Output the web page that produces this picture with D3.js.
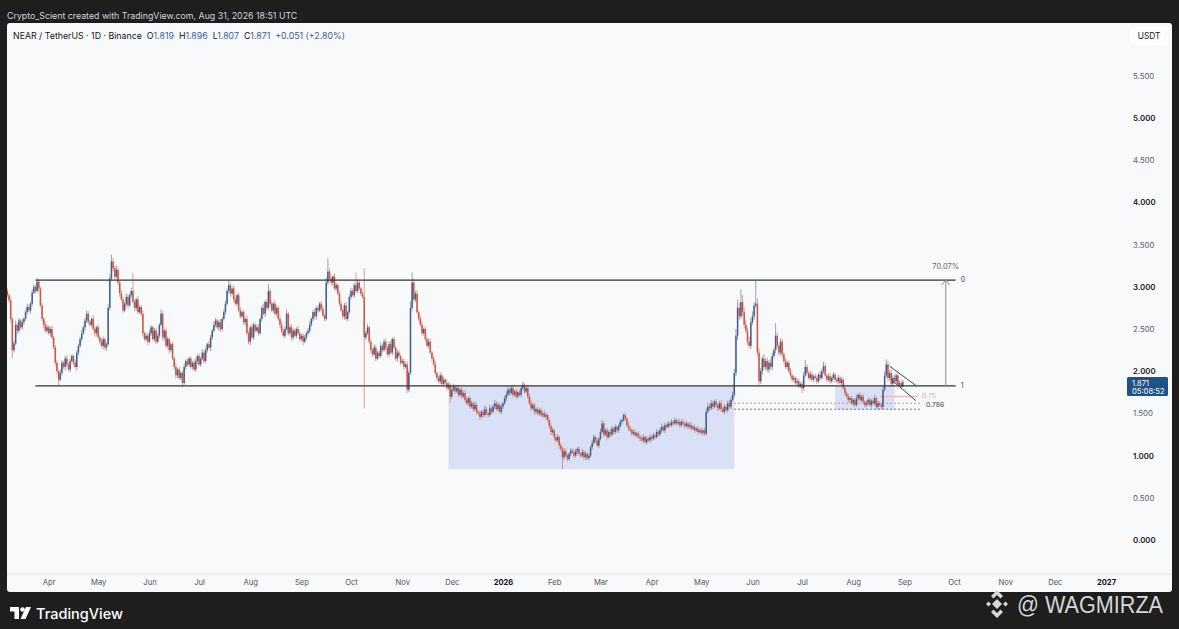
<!DOCTYPE html>
<html>
<head>
<meta charset="utf-8">
<script src="https://cdn.jsdelivr.net/npm/d3@7"></script>
<style>
  body { margin: 0; background: #1e1e1e; }
  svg { display: block; font-family: Inter, "Noto Sans", sans-serif; }
</style>
</head>
<body>
<div id="chart"></div>
<script>
// NEAR / TetherUS daily candles
const startDate = "2025-03-07";
const firstOpen = 2.95;

// Daily closes, one row = 10 days
const closes = [
  2.90, 2.84, 2.62, 2.25, 2.33, 2.55, 2.48, 2.60, 2.52, 2.58,
  2.62, 2.70, 2.76, 2.72, 2.80, 2.93, 3.00, 2.95, 3.06, 2.98,
  2.78, 2.62, 2.55, 2.48, 2.52, 2.45, 2.50, 2.40, 2.28, 2.10,
  2.00, 1.90, 1.98, 2.10, 2.05, 2.15, 2.08, 2.02, 2.12, 2.18,
  2.10, 2.05, 2.22, 2.30, 2.38, 2.45, 2.52, 2.60, 2.68, 2.58,
  2.55, 2.62, 2.50, 2.45, 2.52, 2.40, 2.35, 2.30, 2.38, 2.28,
  2.32, 2.75, 3.10, 3.30, 3.22, 3.12, 3.20, 3.05, 2.92, 2.85,
  2.72, 2.80, 2.88, 2.78, 2.90, 2.95, 2.82, 2.75, 2.85, 2.70,
  2.76, 2.68, 2.45, 2.38, 2.42, 2.35, 2.45, 2.52, 2.38, 2.48,
  2.35, 2.42, 2.55, 2.68, 2.40, 2.48, 2.30, 2.38, 2.25, 2.32,
  2.15, 2.05, 1.95, 2.02, 1.92, 1.98, 1.86, 2.05, 2.12, 2.08,
  2.15, 2.05, 2.10, 2.02, 2.12, 2.18, 2.08, 2.15, 2.22, 2.12,
  2.25, 2.32, 2.28, 2.40, 2.48, 2.55, 2.60, 2.52, 2.58, 2.50,
  2.62, 2.70, 2.80, 2.95, 3.02, 2.92, 2.98, 2.85, 2.80, 2.90,
  2.72, 2.65, 2.70, 2.58, 2.62, 2.45, 2.35, 2.52, 2.40, 2.55,
  2.48, 2.52, 2.45, 2.62, 2.75, 2.68, 2.82, 2.75, 2.95, 2.80,
  2.72, 2.80, 2.68, 2.75, 2.62, 2.55, 2.48, 2.42, 2.50, 2.68,
  2.45, 2.52, 2.40, 2.48, 2.42, 2.50, 2.45, 2.38, 2.42, 2.35,
  2.40, 2.45, 2.48, 2.55, 2.62, 2.70, 2.65, 2.75, 2.72, 2.80,
  2.74, 2.66, 2.62, 3.05, 3.18, 3.10, 3.05, 3.12, 2.98, 3.02,
  2.92, 2.80, 2.72, 2.65, 2.78, 2.62, 2.70, 2.88, 2.95, 2.90,
  3.02, 2.95, 3.05, 2.98, 2.92, 2.88, 2.40, 2.45, 2.52, 2.35,
  2.25, 2.20, 2.28, 2.15, 2.22, 2.18, 2.30, 2.25, 2.35, 2.28,
  2.20, 2.32, 2.22, 2.38, 2.28, 2.15, 2.22, 2.18, 2.10, 2.12,
  2.05, 2.08, 1.78, 1.98, 2.75, 3.05, 2.85, 2.92, 2.70, 2.62,
  2.55, 2.45, 2.50, 2.38, 2.30, 2.35, 2.22, 2.15, 2.08, 1.98,
  1.92, 1.88, 1.95, 1.85, 1.90, 1.86, 1.80, 1.84, 1.70, 1.78,
  1.82, 1.76, 1.80, 1.72, 1.78, 1.70, 1.74, 1.66, 1.62, 1.68,
  1.58, 1.62, 1.55, 1.60, 1.52, 1.50, 1.46, 1.52, 1.48, 1.55,
  1.50, 1.48, 1.56, 1.52, 1.58, 1.62, 1.55, 1.60, 1.52, 1.58,
  1.62, 1.68, 1.72, 1.78, 1.74, 1.80, 1.72, 1.76, 1.70, 1.75,
  1.72, 1.80, 1.84, 1.76, 1.80, 1.70, 1.62, 1.56, 1.60, 1.52,
  1.55, 1.50, 1.54, 1.48, 1.50, 1.46, 1.48, 1.42, 1.35, 1.28,
  1.30, 1.22, 1.18, 1.22, 1.12, 1.08, 0.98, 1.05, 1.00, 0.96,
  1.02, 1.06, 1.04, 1.00, 1.05, 1.08, 1.02, 1.00, 1.04, 0.98,
  1.02, 0.97, 1.00, 1.10, 1.15, 1.22, 1.18, 1.12, 1.20, 1.28,
  1.38, 1.25, 1.30, 1.22, 1.28, 1.25, 1.32, 1.28, 1.34, 1.30,
  1.35, 1.40, 1.42, 1.48, 1.44, 1.36, 1.32, 1.30, 1.26, 1.28,
  1.24, 1.26, 1.22, 1.20, 1.18, 1.22, 1.16, 1.20, 1.18, 1.22,
  1.20, 1.24, 1.22, 1.28, 1.25, 1.30, 1.34, 1.30, 1.36, 1.34,
  1.38, 1.36, 1.40, 1.38, 1.42, 1.38, 1.40, 1.36, 1.40, 1.38,
  1.35, 1.38, 1.34, 1.36, 1.32, 1.34, 1.30, 1.32, 1.28, 1.30,
  1.27, 1.30, 1.26, 1.52, 1.58, 1.56, 1.62, 1.58, 1.64, 1.60,
  1.56, 1.62, 1.55, 1.52, 1.58, 1.54, 1.62, 1.58, 1.66, 1.72,
  1.98, 2.42, 2.75, 2.65, 2.82, 2.70, 2.55, 2.48, 2.35, 2.30,
  2.58, 2.65, 2.78, 2.80, 2.22, 1.88, 2.00, 2.15, 2.05, 2.12,
  2.02, 2.10, 2.05, 2.18, 2.25, 2.42, 2.30, 2.22, 2.35, 2.20,
  2.12, 2.05, 2.10, 2.00, 1.95, 1.90, 1.92, 1.86, 1.88, 1.82,
  1.85, 1.80, 1.95, 2.05, 1.98, 1.92, 1.96, 1.90, 1.94, 1.92,
  1.88, 1.96, 1.92, 2.00, 2.06, 1.95, 1.90, 1.94, 1.88, 1.92,
  1.96, 1.90, 1.88, 1.92, 1.86, 1.90, 1.80, 1.74, 1.70, 1.66,
  1.68, 1.62, 1.66, 1.60, 1.68, 1.72, 1.66, 1.70, 1.64, 1.60,
  1.62, 1.66, 1.60, 1.65, 1.62, 1.68, 1.58, 1.62, 1.60, 1.58,
  1.78, 1.95, 2.08, 1.92, 1.98, 1.85, 1.92, 1.88, 1.95, 1.84,
  1.86, 1.819, 1.871,
];

// Upper wick above the body, in cents
const upperWickCents = [
  3, 2, 4, 2, 3, 5, 2, 3, 2, 4,
  2, 3, 4, 3, 2, 4, 3, 2, 4, 3,
  2, 3, 2, 4, 3, 2, 3, 4, 2, 3,
  3, 2, 4, 3, 2, 3, 4, 2, 3, 2,
  2, 4, 3, 2, 3, 4, 2, 3, 4, 3,
  3, 2, 4, 3, 2, 3, 2, 4, 3, 2,
  2, 4, 5, 8, 4, 3, 5, 3, 2, 4,
  3, 2, 4, 3, 2, 4, 21, 3, 2, 4,
  2, 3, 4, 2, 3, 2, 4, 3, 2, 3,
  4, 3, 2, 5, 3, 2, 4, 3, 2, 3,
  3, 2, 4, 2, 3, 2, 3, 4, 2, 3,
  2, 3, 2, 4, 3, 2, 3, 2, 4, 3,
  3, 2, 4, 3, 2, 4, 3, 2, 3, 4,
  2, 3, 4, 3, 6, 3, 2, 4, 3, 2,
  3, 4, 2, 3, 2, 4, 3, 2, 4, 3,
  2, 3, 4, 2, 3, 5, 2, 3, 8, 3,
  3, 2, 4, 3, 2, 3, 4, 2, 3, 5,
  2, 3, 4, 2, 3, 2, 4, 3, 2, 3,
  3, 2, 3, 4, 2, 3, 4, 2, 3, 2,
  3, 4, 2, 6, 16, 4, 3, 2, 4, 3,
  2, 3, 4, 2, 3, 4, 2, 3, 4, 3,
  3, 15, 4, 3, 2, 3, 34, 3, 4, 2,
  3, 2, 4, 3, 2, 3, 4, 2, 3, 4,
  2, 3, 4, 2, 3, 2, 4, 3, 2, 3,
  3, 2, 4, 3, 8, 12, 5, 3, 4, 2,
  3, 4, 2, 3, 2, 4, 3, 2, 3, 4,
  2, 3, 4, 2, 3, 2, 4, 3, 2, 3,
  3, 2, 3, 4, 2, 3, 2, 4, 3, 2,
  2, 3, 2, 4, 3, 2, 3, 2, 3, 4,
  3, 2, 4, 2, 3, 4, 2, 3, 2, 3,
  2, 3, 4, 3, 2, 3, 4, 2, 3, 2,
  3, 2, 4, 2, 3, 2, 3, 4, 2, 3,
  2, 3, 2, 3, 2, 4, 3, 2, 3, 4,
  3, 2, 4, 3, 2, 3, 2, 4, 3, 2,
  2, 3, 2, 4, 3, 2, 3, 2, 4, 3,
  3, 2, 3, 2, 4, 3, 2, 3, 2, 4,
  4, 3, 2, 3, 2, 4, 3, 2, 3, 2,
  2, 3, 2, 2, 3, 2, 4, 3, 2, 3,
  3, 2, 3, 2, 4, 3, 2, 3, 2, 3,
  2, 3, 2, 3, 2, 3, 4, 2, 3, 2,
  3, 2, 3, 2, 3, 2, 3, 4, 2, 3,
  2, 3, 2, 3, 4, 2, 3, 2, 3, 2,
  3, 2, 3, 4, 5, 3, 4, 3, 2, 3,
  2, 3, 4, 2, 3, 2, 3, 4, 3, 4,
  5, 8, 10, 6, 15, 8, 6, 5, 4, 6,
  5, 6, 4, 28, 6, 5, 4, 3, 5, 3,
  4, 3, 5, 4, 3, 15, 4, 3, 4, 3,
  3, 4, 2, 3, 4, 2, 3, 2, 4, 3,
  2, 3, 4, 8, 3, 2, 4, 3, 2, 3,
  3, 2, 4, 3, 5, 3, 2, 3, 4, 2,
  3, 2, 3, 4, 2, 3, 2, 3, 2, 3,
  2, 3, 2, 3, 4, 2, 3, 2, 3, 2,
  3, 2, 3, 2, 3, 4, 2, 3, 2, 3,
  4, 5, 6, 4, 3, 5, 3, 4, 2, 3,
  3, 3, 2.5,
];

// Lower wick below the body, in cents
const lowerWickCents = [
  2, 3, 4, 10, 3, 2, 4, 3, 2, 3,
  3, 2, 3, 2, 4, 3, 2, 3, 2, 4,
  2, 3, 4, 2, 3, 2, 4, 3, 2, 4,
  3, 8, 2, 3, 2, 4, 3, 2, 3, 2,
  3, 2, 4, 3, 2, 3, 2, 4, 3, 2,
  2, 3, 2, 4, 3, 2, 3, 2, 4, 3,
  4, 2, 3, 2, 4, 3, 2, 3, 4, 2,
  3, 2, 3, 4, 2, 3, 2, 4, 3, 2,
  2, 3, 4, 2, 3, 4, 2, 3, 2, 3,
  3, 2, 3, 2, 4, 3, 2, 3, 4, 2,
  2, 3, 4, 3, 2, 3, 5, 2, 3, 2,
  3, 2, 3, 2, 3, 4, 2, 3, 2, 3,
  2, 3, 2, 4, 3, 2, 3, 2, 4, 3,
  3, 2, 3, 2, 3, 4, 2, 3, 2, 3,
  2, 3, 2, 3, 4, 2, 3, 4, 2, 3,
  3, 2, 3, 2, 3, 2, 4, 3, 2, 3,
  2, 3, 2, 3, 2, 4, 3, 2, 3, 2,
  3, 2, 4, 3, 2, 3, 2, 3, 2, 4,
  2, 3, 2, 3, 2, 3, 2, 4, 3, 2,
  3, 2, 3, 2, 3, 2, 3, 4, 2, 3,
  2, 3, 2, 3, 4, 2, 3, 2, 3, 2,
  3, 2, 3, 2, 3, 2, 84, 3, 2, 3,
  4, 3, 2, 3, 2, 3, 2, 3, 2, 3,
  2, 3, 2, 3, 2, 3, 4, 2, 3, 2,
  3, 2, 4, 3, 2, 3, 2, 3, 2, 3,
  2, 3, 2, 3, 2, 3, 2, 3, 2, 3,
  3, 2, 3, 2, 3, 2, 3, 2, 8, 3,
  2, 3, 2, 3, 2, 3, 2, 3, 2, 3,
  3, 2, 3, 2, 3, 2, 4, 2, 3, 2,
  2, 3, 2, 3, 2, 3, 2, 3, 2, 3,
  3, 2, 3, 2, 3, 2, 3, 2, 3, 2,
  2, 3, 2, 3, 2, 3, 2, 3, 2, 3,
  3, 2, 3, 2, 3, 2, 3, 2, 3, 4,
  3, 4, 3, 2, 4, 3, 14, 3, 2, 3,
  2, 3, 2, 3, 2, 3, 2, 3, 2, 3,
  3, 2, 3, 2, 3, 2, 3, 2, 3, 2,
  2, 3, 2, 3, 2, 3, 2, 3, 2, 3,
  3, 2, 3, 2, 3, 2, 3, 2, 3, 2,
  2, 3, 2, 3, 2, 3, 2, 3, 2, 3,
  3, 2, 3, 2, 3, 2, 3, 2, 3, 2,
  2, 3, 2, 3, 2, 3, 2, 3, 2, 3,
  3, 2, 3, 2, 3, 2, 3, 2, 3, 2,
  2, 3, 2, 3, 2, 3, 2, 3, 2, 3,
  3, 2, 3, 2, 3, 2, 3, 2, 3, 2,
  3, 4, 5, 4, 3, 5, 4, 3, 4, 3,
  4, 3, 4, 3, 5, 4, 3, 4, 3, 4,
  3, 4, 3, 4, 3, 4, 3, 4, 3, 4,
  3, 2, 3, 2, 3, 2, 3, 2, 3, 2,
  2, 6, 3, 2, 3, 2, 3, 2, 3, 2,
  3, 2, 3, 2, 3, 2, 3, 2, 3, 2,
  2, 3, 2, 3, 2, 3, 2, 3, 2, 3,
  3, 2, 3, 3, 2, 3, 2, 3, 2, 3,
  2, 3, 2, 3, 2, 3, 2, 3, 2, 3,
  3, 2, 3, 4, 3, 2, 3, 2, 3, 2,
  2, 2, 1.2,
];

// Axis ticks
const priceTicks = [0, 0.5, 1, 1.5, 2, 2.5, 3, 3.5, 4, 4.5, 5, 5.5];
const timeTicks = [
  "2025-04-01", "2025-05-01", "2025-06-01", "2025-07-01", "2025-08-01", "2025-09-01",
  "2025-10-01", "2025-11-01", "2025-12-01", "2026-01-01", "2026-02-01", "2026-03-01",
  "2026-04-01", "2026-05-01", "2026-06-01", "2026-07-01", "2026-08-01", "2026-09-01",
  "2026-10-01", "2026-11-01", "2026-12-01", "2027-01-01",
];

// Legend values of the last bar
const legendNames = ["O", "H", "L", "C"];
const legendValues = ["1.819", "1.896", "1.807", "1.871"];
const legendChange = "+0.051 (+2.80%)";
const lastPrice = 1.871;
const countdown = "05:08:52";

// Drawings on the chart
const rangeLevels = [3.08, 1.825]; // fib 0 and 1
const rangeLabels = ["0", "1"];
const rangeSpan = ["2025-03-24", "2026-10-02"];
const moveDate = "2026-09-26";
const moveLabel = "70.07%";
const zones = [
  { from: "2025-11-29", to: "2026-05-21", top: 1.825, bottom: 0.84 },
  { from: "2026-07-21", to: "2026-08-26", top: 1.825, bottom: 1.54 },
];
const dottedLevels = [1.62, 1.55];
const dottedSpan = ["2026-05-21", "2026-09-11"];
const fibLevel75 = 1.70;
const fib75Span = ["2026-08-17", "2026-09-09"];
const wedgeUpper = [["2026-08-23", 2.06], ["2026-09-08", 1.83]];
const wedgeLower = [["2026-08-24", 1.90], ["2026-09-08", 1.65]];

const W = 1179, H = 629;
const upColor = "#3f5f8b";
const downColor = "#cf5440";
const parse = d3.utcParse("%Y-%m-%d");

// Build OHLC bars (open = previous close)
const start = parse(startDate);
const bars = closes.map((c, i) => {
  const o = i === 0 ? firstOpen : closes[i - 1];
  return {
    date: d3.utcDay.offset(start, i),
    open: o,
    close: c,
    high: Math.max(o, c) + upperWickCents[i] / 100,
    low: Math.min(o, c) - lowerWickCents[i] / 100,
  };
});

// Scales
const x = d3.scaleUtc()
  .domain([parse("2026-01-01"), parse("2027-01-01")])
  .range([503, 1106]);
const y = d3.scaleLinear().domain([0, 5.5]).range([540, 75.8]);

const svg = d3.select("#chart").append("svg")
  .attr("width", W)
  .attr("height", H);

// Credit line
svg.append("text")
  .attr("x", 7).attr("y", 18.5)
  .attr("fill", "#d1d4dc")
  .attr("font-size", 8.8)
  .text("Crypto_Scient created with TradingView.com, Aug 31, 2026 18:51 UTC");

// Chart panel
svg.append("rect")
  .attr("x", 7).attr("y", 23)
  .attr("width", 1165).attr("height", 569)
  .attr("rx", 3)
  .attr("fill", "#f8f9fb");

svg.append("defs").append("clipPath").attr("id", "pane")
  .append("rect").attr("x", 7).attr("y", 23).attr("width", 1111).attr("height", 550);

// Time axis separator
svg.append("line")
  .attr("x1", 7).attr("x2", 1172)
  .attr("y1", 574).attr("y2", 574)
  .attr("stroke", "#e4e6eb");

const pane = svg.append("g").attr("clip-path", "url(#pane)");

// Shaded zones
pane.append("g")
  .selectAll("rect")
  .data(zones)
  .join("rect")
  .attr("x", (d) => x(parse(d.from)))
  .attr("y", (d) => y(d.top))
  .attr("width", (d) => x(parse(d.to)) - x(parse(d.from)))
  .attr("height", (d) => y(d.bottom) - y(d.top))
  .attr("fill", "rgba(100, 130, 230, 0.2)");

// Dotted levels and the 0.75 line
pane.append("g")
  .selectAll("line")
  .data(dottedLevels)
  .join("line")
  .attr("x1", x(parse(dottedSpan[0])))
  .attr("x2", x(parse(dottedSpan[1])))
  .attr("y1", (d) => y(d))
  .attr("y2", (d) => y(d))
  .attr("stroke", (d, i) => (i === 0 ? "#e06a6a" : "#555"))
  .attr("stroke-width", 1)
  .attr("stroke-dasharray", "1.5,2.5");

pane.append("line")
  .attr("x1", x(parse(fib75Span[0])))
  .attr("x2", x(parse(fib75Span[1])))
  .attr("y1", y(fibLevel75))
  .attr("y2", y(fibLevel75))
  .attr("stroke", "#f3b7b7")
  .attr("stroke-width", 1.5);

// Candles
const candles = pane.append("g")
  .selectAll("g")
  .data(bars)
  .join("g")
  .attr("fill", (d) => (d.close >= d.open ? upColor : downColor))
  .attr("stroke", (d) => (d.close >= d.open ? upColor : downColor));

candles.append("line")
  .attr("x1", (d) => x(d.date))
  .attr("x2", (d) => x(d.date))
  .attr("y1", (d) => y(d.high))
  .attr("y2", (d) => y(d.low))
  .attr("stroke-width", 1)
  .attr("stroke-opacity", 0.55);

candles.append("rect")
  .attr("x", (d) => x(d.date) - 0.75)
  .attr("width", 1.5)
  .attr("y", (d) => y(Math.max(d.open, d.close)))
  .attr("height", (d) => Math.max(1, Math.abs(y(d.open) - y(d.close))))
  .attr("stroke", "none");

// Range lines (fib 0 / 1)
const rx1 = x(parse(rangeSpan[0])), rx2 = x(parse(rangeSpan[1]));
svg.append("g")
  .selectAll("line")
  .data(rangeLevels)
  .join("line")
  .attr("x1", rx1).attr("x2", rx2)
  .attr("y1", (d) => y(d)).attr("y2", (d) => y(d))
  .attr("stroke", "#353535")
  .attr("stroke-width", 1.2);

svg.append("g")
  .selectAll("text")
  .data(rangeLevels)
  .join("text")
  .attr("x", rx2 + 5)
  .attr("y", (d) => y(d))
  .attr("dy", "0.32em")
  .attr("font-size", 7)
  .attr("fill", "#444")
  .text((d, i) => rangeLabels[i]);

// Measure arrow
const mx = x(parse(moveDate));
svg.append("line")
  .attr("x1", mx).attr("x2", mx)
  .attr("y1", y(rangeLevels[1])).attr("y2", y(rangeLevels[0]))
  .attr("stroke", "#8c8c8c");
svg.append("path")
  .attr("d", `M${mx - 4},${y(rangeLevels[0]) + 5}L${mx},${y(rangeLevels[0])}L${mx + 4},${y(rangeLevels[0]) + 5}`)
  .attr("fill", "none")
  .attr("stroke", "#8c8c8c");
svg.append("text")
  .attr("x", mx).attr("y", y(rangeLevels[0]) - 11)
  .attr("text-anchor", "middle")
  .attr("font-size", 7.5)
  .attr("fill", "#666")
  .text(moveLabel);

// Wedge lines
const line = d3.line().x((d) => x(parse(d[0]))).y((d) => y(d[1]));
svg.append("g")
  .selectAll("path")
  .data([wedgeUpper, wedgeLower])
  .join("path")
  .attr("d", line)
  .attr("fill", "none")
  .attr("stroke", "#4a4a4a")
  .attr("stroke-width", 1);

// Fib labels
const lx = x(parse(dottedSpan[1]));
svg.append("text")
  .attr("x", lx + 1).attr("y", y(fibLevel75) - 1).attr("dy", "0.32em")
  .attr("font-size", 6.8).attr("fill", "#eea3a3")
  .text("0.75");
svg.append("text")
  .attr("x", lx + 5).attr("y", y(dottedLevels[0]) + 1.5).attr("dy", "0.32em")
  .attr("font-size", 6.8).attr("fill", "#444")
  .text("0.786");

// Price axis
const yAxis = svg.append("g")
  .attr("transform", "translate(1133,0)")
  .call(d3.axisRight(y).tickValues(priceTicks).tickFormat(d3.format(".3f")).tickSize(0).tickPadding(0));
yAxis.select(".domain").remove();
yAxis.selectAll("text")
  .attr("font-family", "Inter, sans-serif")
  .attr("font-size", 7.8)
  .attr("font-weight", (d) => (d % 1 === 0 ? 600 : 400))
  .attr("fill", (d) => (d % 1 === 0 ? "#131722" : "#5d606b"));

// Time axis
const fmtMonth = d3.utcFormat("%b"), fmtYear = d3.utcFormat("%Y");
const xAxis = svg.append("g")
  .attr("transform", "translate(0,574)")
  .call(d3.axisBottom(x)
    .tickValues(timeTicks.map(parse))
    .tickFormat((d) => (d.getUTCMonth() === 0 ? fmtYear(d) : fmtMonth(d)))
    .tickSize(0)
    .tickPadding(6));
xAxis.select(".domain").remove();
xAxis.selectAll("text")
  .attr("font-family", "Inter, sans-serif")
  .attr("font-size", 7.6)
  .attr("font-weight", (d) => (d.getUTCMonth() === 0 ? 700 : 400))
  .attr("fill", (d) => (d.getUTCMonth() === 0 ? "#131722" : "#50535e"));

// Legend
const legend = svg.append("text")
  .attr("x", 13).attr("y", 38.5)
  .attr("font-size", 8.8)
  .attr("fill", "#131722")
  .style("white-space", "pre");
legend.append("tspan").text("NEAR / TetherUS · 1D · Binance ");
legendNames.forEach((n, i) => {
  legend.append("tspan").text(" " + n);
  legend.append("tspan").attr("fill", upColor).text(legendValues[i] + " ");
});
legend.append("tspan").attr("fill", upColor).text(" " + legendChange);

// USDT box
svg.append("rect")
  .attr("x", 1130).attr("y", 27).attr("width", 38).attr("height", 18)
  .attr("rx", 3).attr("fill", "#fdfdfe");
svg.append("text")
  .attr("x", 1149).attr("y", 36).attr("dy", "0.35em")
  .attr("text-anchor", "middle")
  .attr("font-size", 8.3).attr("fill", "#131722")
  .text("USDT");

// Last price marker
const py = y(lastPrice);
svg.append("rect")
  .attr("x", 1127).attr("y", py - 5).attr("width", 41).attr("height", 19)
  .attr("rx", 1.5).attr("fill", "#1f5287");
svg.append("text")
  .attr("x", 1132).attr("y", py + 1).attr("dy", "0.35em")
  .attr("font-size", 7.6).attr("fill", "#fff")
  .text(d3.format(".3f")(lastPrice));
svg.append("text")
  .attr("x", 1132).attr("y", py + 9.5).attr("dy", "0.35em")
  .attr("font-size", 7.6).attr("fill", "#fff")
  .text(countdown);

// TradingView logo
const logo = svg.append("g").attr("fill", "#ffffff");
logo.append("path").attr("d", "M10,607h9v12h-4.5v-7.5h-4.5z");
logo.append("circle").attr("cx", 22.5).attr("cy", 609.5).attr("r", 2.3);
logo.append("path").attr("d", "M26,607h5l-5.5,12h-5z");
svg.append("text")
  .attr("x", 36).attr("y", 619)
  .attr("font-size", 14.5).attr("font-weight", 500)
  .attr("fill", "#ffffff")
  .text("TradingView");

// Watermark
const wm = svg.append("g").attr("fill", "#d6d6d6").attr("transform", "translate(997,604)");
wm.append("path").attr("d", "M0,-5L5,0L0,5L-5,0Z");
wm.append("path").attr("d", "M0,-14L6,-8L3.5,-5.5L0,-9L-3.5,-5.5L-6,-8Z");
wm.append("path").attr("d", "M0,14L6,8L3.5,5.5L0,9L-3.5,5.5L-6,8Z");
wm.append("path").attr("d", "M-11,0L-8.5,-2.5L-6,0L-8.5,2.5Z");
wm.append("path").attr("d", "M11,0L8.5,-2.5L6,0L8.5,2.5Z");
svg.append("text")
  .attr("x", 1017).attr("y", 613)
  .attr("font-family", "'Liberation Sans', sans-serif")
  .attr("font-size", 23)
  .attr("textLength", 146)
  .attr("lengthAdjust", "spacingAndGlyphs")
  .attr("fill", "#d6d6d6")
  .text("@ WAGMIRZA");
</script>
</body>
</html>
